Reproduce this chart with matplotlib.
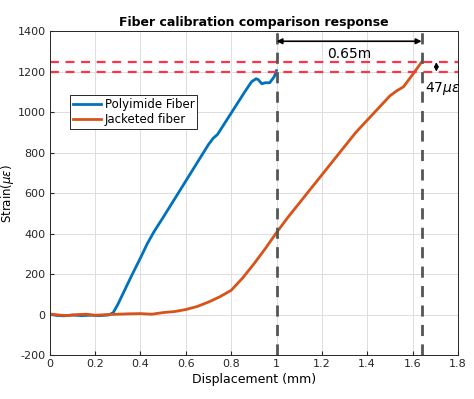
import matplotlib.pyplot as plt
import numpy as np

plt.rcParams["axes.unicode_minus"] = False

# polyimide fiber (blue)
poly_x = [0, 0.03, 0.06, 0.1, 0.14, 0.18, 0.22, 0.26, 0.28, 0.3, 0.33, 0.36, 0.4, 0.43, 0.46,
          0.5, 0.55, 0.6, 0.65, 0.7, 0.72, 0.74, 0.78, 0.82, 0.86, 0.89, 0.91, 0.92, 0.935,
          0.95, 0.97, 0.98, 0.99, 1.0]
poly_y = [2, -4, -6, -2, -5, -3, -5, -2, 10, 50, 120, 190, 280, 350, 410,
          480, 570, 660, 750, 840, 870, 890, 960, 1030, 1100, 1150, 1165, 1160, 1140,
          1145, 1145, 1160, 1175, 1205]

# jacketed fiber (orange)
jack_x = [0, 0.04, 0.08, 0.12, 0.16, 0.2, 0.25, 0.3, 0.35, 0.4, 0.45, 0.5, 0.55, 0.6, 0.65,
          0.7, 0.75, 0.8, 0.85, 0.9, 0.95, 1.0, 1.05, 1.1, 1.15, 1.2, 1.25, 1.3, 1.35,
          1.4, 1.45, 1.5, 1.53, 1.56, 1.6, 1.64]
jack_y = [3, -2, -5, 0, 2, -3, 0, 2, 4, 5, 2, 10, 15, 25, 40,
          62, 88, 120, 180, 250, 325, 405, 480, 550, 620, 690, 760, 830, 900,
          960, 1020, 1080, 1105, 1125, 1185, 1247]

x_ticks = [0, 0.2, 0.4, 0.6, 0.8, 1, 1.2, 1.4, 1.6, 1.8]
x_labels = ["0", "0.2", "0.4", "0.6", "0.8", "1", "1.2", "1.4", "1.6", "1.8"]
y_ticks = [-200, 0, 200, 400, 600, 800, 1000, 1200, 1400]

strain_lines = [1200, 1247]
disp_marks = [1.0, 1.64]

fig = plt.figure(figsize=(4.74, 3.99), dpi=100)
ax = fig.add_axes([0.105, 0.110, 0.861, 0.812])

ax.plot(poly_x, poly_y, color="#0072BD", lw=2, label="Polyimide Fiber")
ax.plot(jack_x, jack_y, color="#D95319", lw=2, label="Jacketed fiber")

for s in strain_lines:
    ax.axhline(s, color="#ff3347", ls=(0, (4, 3)), lw=1.6)
for d in disp_marks:
    ax.axvline(d, color="#555555", ls=(0, (4, 3)), lw=2)

ax.annotate("", xy=(disp_marks[0], 1350), xytext=(disp_marks[1], 1350),
            arrowprops=dict(arrowstyle="<|-|>", color="black", lw=1.2,
                            shrinkA=0, shrinkB=0, mutation_scale=8))
ax.text(1.32, 1285, "0.65m", ha="center", va="center", fontsize=10,
        family="DejaVu Sans")
ax.annotate("", xy=(1.705, strain_lines[0]), xytext=(1.705, strain_lines[1]),
            arrowprops=dict(arrowstyle="<|-|>", color="black", lw=1,
                            shrinkA=0, shrinkB=0, mutation_scale=6))
ax.text(1.655, 1118, r"$47\mu\varepsilon$", ha="left", va="center", fontsize=10,
        clip_on=False)

ax.set_xlim(0, 1.8)
ax.set_ylim(-200, 1400)
ax.set_xticks(x_ticks)
ax.set_xticklabels(x_labels)
ax.set_yticks(y_ticks)
ax.tick_params(labelsize=8, colors="#262626", direction="in", length=3, pad=3)
ax.grid(True, color="#dddddd", lw=0.7)
ax.set_axisbelow(True)
for sp in ax.spines.values():
    sp.set_color("#262626")
    sp.set_linewidth(0.7)

ax.set_title("Fiber calibration comparison response", fontsize=9, fontweight="bold", pad=4)
ax.set_xlabel("Displacement (mm)", fontsize=9, labelpad=3)
ax.set_ylabel(r"Strain($\mu\epsilon$)", fontsize=8.5)
ax.yaxis.set_label_coords(-0.083, 0.5)

leg = ax.legend(loc="upper left", bbox_to_anchor=(0.035, 0.82), fontsize=8.5,
                fancybox=False, edgecolor="#262626", framealpha=1,
                handlelength=2.4, borderpad=0.25, labelspacing=0.15, handletextpad=0.3)
leg.get_frame().set_linewidth(0.7)

plt.savefig("out.png", dpi=100)
